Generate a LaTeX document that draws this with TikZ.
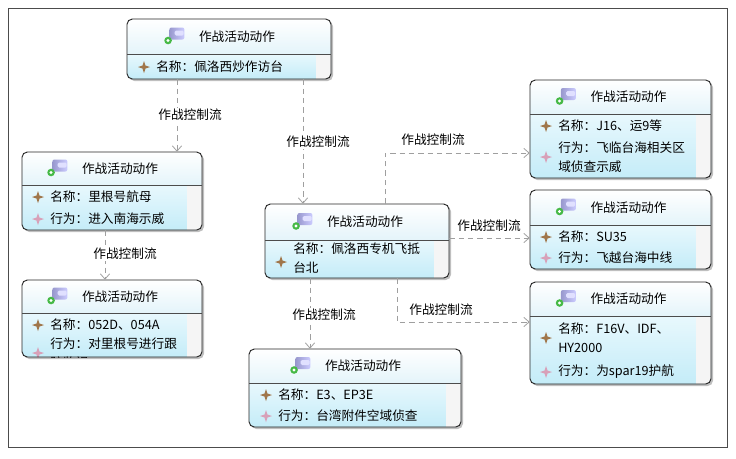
\documentclass[tikz,border=0pt]{standalone}
\usepackage{fontspec}
\setmainfont{Noto Sans CJK SC}
\usetikzlibrary{fit,arrows.meta}
\definecolor{hc}{HTML}{E4F4FA}
\definecolor{rc1}{HTML}{E8F8FD}
\definecolor{rc2}{HTML}{C4ECF8}
\definecolor{dia1}{HTML}{A0764A}
\definecolor{dia2}{HTML}{D8A0B8}
\tikzset{
 flow/.style={draw=gray!75, dashed, dash pattern=on 4pt off 3pt, line width=0.6pt, -{Straight Barb[length=4pt,width=7pt]}},
 lbl/.style={fill=white, inner sep=1pt, font=\fontsize{9.5}{11}\selectfont},
 txt/.style={anchor=west, inner sep=0, font=\fontsize{9.5}{14.5}\selectfont, align=left},
}
% name x1 y1 x2 y2 yh
\newcommand\ubox[6]{%
 \fill[black!25, rounded corners=4pt] (#2+2,#3+2) rectangle (#4+2,#5+2);
 \begin{scope}
 \clip[rounded corners=4pt] (#2,#3) rectangle (#4,#5);
 \shade[top color=white, bottom color=hc] (#2,#3) rectangle (#4,#6);
 \shade[top color=rc1, bottom color=rc2] (#2,#6) rectangle (#4,#5);
 \end{scope}
 \node[inner sep=0, fit={(#2,#3)(#4,#5)}] (#1) {};
 \node[font=\fontsize{9.5}{11}\selectfont, inner sep=0] (#1t) at ({(#2+#4)/2+8},{(#3+#6)/2}) {作战活动动作};
 \shade[left color=blue!35!gray!60, right color=blue!20, rounded corners=1.5pt] ([xshift=-22]#1t.west) ++(0,-9) rectangle ++(15,12);
 \fill[blue!12, rounded corners=1pt] ([xshift=-18]#1t.west) ++(0,-6) rectangle ++(9,5);
 \fill[green!45!gray] ([xshift=-23]#1t.west) ++(0,4) circle (3.8);
 \fill[white] ([xshift=-23]#1t.west) ++(0,4) circle (1.6);
}
\newcommand\ufin[6]{%
 \begin{scope}
 \clip[rounded corners=4pt] (#2,#3) rectangle (#4,#5);
 \fill[white!92!gray] (#4-15,#6) rectangle (#4,#5);
 \end{scope}
 \draw[black!85, line width=0.7pt, rounded corners=4pt] (#2,#3) rectangle (#4,#5);
 \draw[black!70, line width=0.5pt] (#2,#6) -- (#4,#6);
}
\newcommand\dia[3]{\fill[#1] (#2-6,#3) -- (#2-1.5,#3-1.5) -- (#2,#3-6) -- (#2+1.5,#3-1.5) -- (#2+6,#3) -- (#2+1.5,#3+1.5) -- (#2,#3+6) -- (#2-1.5,#3+1.5) -- cycle;}
\begin{document}
\begin{tikzpicture}[x=0.75pt,y=-0.75pt]
\useasboundingbox (0,0) rectangle (736,458);
\draw[black!70, line width=0.6pt] (8,8) rectangle (727,447);

\ubox{A}{127}{19}{331}{79}{54}
\ubox{B}{22}{152}{202}{230}{185}
\ubox{C}{22}{280}{202}{357}{313}
\ubox{D}{265}{204}{449}{278}{240}
\ubox{E}{249}{349}{461}{427}{383}
\ubox{F}{530}{80}{711}{178}{114}
\ubox{G}{530}{190}{711}{269}{225}
\ubox{H}{530}{282}{711}{384}{316}

% texts
\dia{dia1}{144}{67}\node[txt] (a1) at (156,67) {名称：佩洛西炒作访台};
\dia{dia1}{38}{197}\node[txt] (b1) at (50,197) {名称：里根号航母};
\dia{dia2}{38}{219}\node[txt] (b2) at (50,219) {行为：进入南海示威};
\begin{scope}
\clip (22,313) rectangle (202,357);
\dia{dia1}{38}{325}\node[txt] (c1) at (50,325) {名称：052D、054A};
\dia{dia2}{38}{353}\node[txt] (c2) at (50,353) {行为：对里根号进行跟\\踪监视};
\end{scope}
\dia{dia1}{281}{262}\node[txt] (d1) at (293,258) {名称：佩洛西专机飞抵\\台北};
\dia{dia1}{266}{395}\node[txt] (e1) at (278,395) {名称：E3、EP3E};
\dia{dia2}{266}{416}\node[txt] (e2) at (278,416) {行为：台湾附件空域侦查};
\dia{dia1}{546}{126}\node[txt] (f1) at (558,126) {名称：J16、运9等};
\dia{dia2}{546}{157}\node[txt] (f2) at (558,157) {行为：飞临台海相关区\\域侦查示威};
\dia{dia1}{546}{237}\node[txt] (g1) at (558,237) {名称：SU35};
\dia{dia2}{546}{258}\node[txt] (g2) at (558,258) {行为：飞越台海中线};
\dia{dia1}{546}{338}\node[txt] (h1) at (558,338) {名称：F16V、IDF、\\HY2000};
\dia{dia2}{546}{372}\node[txt] (h2) at (558,372) {行为：为spar19护航};

\ufin{A}{127}{19}{331}{79}{54}
\ufin{B}{22}{152}{202}{230}{185}
\ufin{C}{22}{280}{202}{357}{313}
\ufin{D}{265}{204}{449}{278}{240}
\ufin{E}{249}{349}{461}{427}{383}
\ufin{F}{530}{80}{711}{178}{114}
\ufin{G}{530}{190}{711}{269}{225}
\ufin{H}{530}{282}{711}{384}{316}

% flows
\draw[flow] (A.south -| 177,0) -- (B.north -| 177,0);
\node[lbl] at (190,115) {作战控制流};
\draw[flow] (A.south -| 303,0) -- (D.north -| 303,0);
\node[lbl] at (318,142) {作战控制流};
\draw[flow] (B.south -| 105,0) -- (C.north -| 105,0);
\node[lbl] at (125,254) {作战控制流};
\draw[flow] (D.north -| 385,0) |- (F.west |- 0,153);
\node[lbl] at (433,140) {作战控制流};
\draw[flow] (D.east |- 0,238) -- (G.west |- 0,238);
\node[lbl] at (489,226) {作战控制流};
\draw[flow] (D.south -| 397,0) |- (H.west |- 0,322);
\node[lbl] at (441,310) {作战控制流};
\draw[flow] (D.south -| 310,0) -- (E.north -| 310,0);
\node[lbl] at (324,315) {作战控制流};
\end{tikzpicture}
\end{document}
